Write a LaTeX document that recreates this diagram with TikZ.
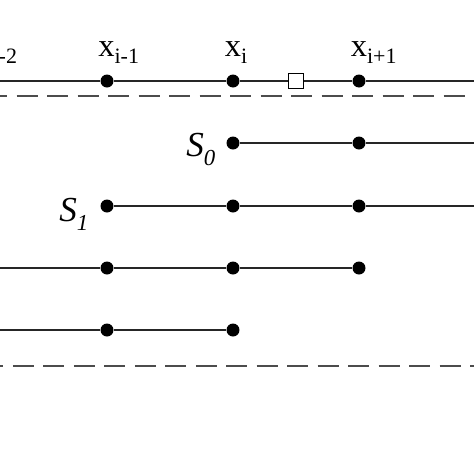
\documentclass[tikz,border=0pt]{standalone}
\usepackage{fontspec}
\setmainfont{Liberation Serif}
\usepackage{tikz}

\tikzset{
  dot/.style={circle,fill=black,inner sep=0pt,minimum size=0.26cm},
  seg/.style={line width=0.8pt,draw=black!85},
  sep/.style={line width=0.8pt,draw=black!70,dash pattern=on 0.42cm off 0.19cm},
  lab/.style={anchor=base west,inner sep=0pt},
}
\newcommand{\xlab}[1]{{\fontsize{18.5}{19}\selectfont x}\raisebox{-0.14cm}{\fontsize{12.5}{13}\selectfont #1}}
\newcommand{\slab}[1]{{\fontsize{20}{21}\selectfont\itshape S}\raisebox{-0.18cm}{\fontsize{13}{14}\selectfont\itshape #1}}

\begin{document}
\begin{tikzpicture}[x=0.02cm,y=-0.02cm]
      \clip (0,0) rectangle (474,474);

      % grid of the x_i
      \coordinate (gl) at (0,81);
      \coordinate (gr) at (474,81);
      \path (107,81) node[dot] (g1) {};
      \path (233,81) node[dot] (g2) {};
      \path (359,81) node[dot] (g3) {};
      \path (296,81) node[draw,fill=white,line width=0.7pt,
                    minimum size=0.31cm,inner sep=0pt] (mid) {};
      \draw[seg] (gl) -- (g1) -- (g2) -- (mid) -- (g3) -- (gr);

      \path (-24,56)   node[lab] (xm2) {\xlab{i-2}};
      \path (98,56)    node[lab] (xm1) {\xlab{i-1}};
      \path (224.5,56) node[lab] (x0)  {\xlab{i}};
      \path (350.5,56) node[lab] (xp1) {\xlab{i+1}};

      % separators
      \coordinate (tl) at (0,96);
      \coordinate (tr) at (474,96);
      \coordinate (bl) at (0,366);
      \coordinate (br) at (474,366);
      \draw[sep,dash phase=0.276cm] (tl) -- (tr);
      \draw[sep,dash phase=0.354cm] (bl) -- (br);

      % stencil S_0
      \path (233,143) node[dot] (a2) {};
      \path (359,143) node[dot] (a3) {};
      \coordinate (ar) at (474,143);
      \draw[seg] (a2) -- (a3) -- (ar);
      \path (186,156) node[lab] (s0) {\slab{0}};

      % stencil S_1
      \path (107,206) node[dot] (b1) {};
      \path (233,206) node[dot] (b2) {};
      \path (359,206) node[dot] (b3) {};
      \coordinate (br1) at (474,206);
      \draw[seg] (b1) -- (b2) -- (b3) -- (br1);
      \path (59,221) node[lab] (s1) {\slab{1}};

      % stencil S_2
      \coordinate (cl) at (0,268);
      \path (107,268) node[dot] (c1) {};
      \path (233,268) node[dot] (c2) {};
      \path (359,268) node[dot] (c3) {};
      \draw[seg] (cl) -- (c1) -- (c2) -- (c3);

      % stencil S_3
      \coordinate (dl) at (0,330);
      \path (107,330) node[dot] (d1) {};
      \path (233,330) node[dot] (d2) {};
      \draw[seg] (dl) -- (d1) -- (d2);
\end{tikzpicture}
\end{document}
